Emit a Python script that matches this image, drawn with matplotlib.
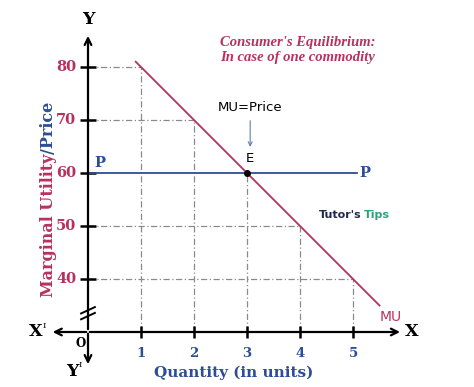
import matplotlib.pyplot as plt
import numpy as np

# data
qty = [1, 2, 3, 4, 5]
mu = [80, 70, 60, 50, 40]
mu_line_x = [0.9, 5.5]
mu_line_y = [81, 35]
price = 60
price_x = [0, 5.08]
y_ticks = [40, 50, 60, 70, 80]

crimson = '#B8315E'
blue = '#2D4E95'
grey = '#8a8a8a'
serif = 'DejaVu Serif'

fig = plt.figure(figsize=(4.74, 3.87), dpi=100)
ax = fig.add_axes([0, 0, 1, 1])
ax.set_xlim(-88 / 53, 386 / 53)
ax.set_ylim(30 - 55 / 5.3, 30 + 332 / 5.3)
ax.axis('off')

# guide lines
for x, y in zip(qty, mu):
    ax.plot([x, x], [30, y], color=grey, lw=0.9, ls='-.', dashes=(5, 2, 1, 2))
    if y != price:
        ax.plot([0, x], [y, y], color=grey, lw=0.9, ls='-.', dashes=(5, 2, 1, 2))

# axes with arrows
arr = dict(arrowstyle='->', color='black', lw=1.6, mutation_scale=12)
ax.annotate('', xy=(0, 86.4), xytext=(0, 30), arrowprops=arr)
ax.annotate('', xy=(0, 23.4), xytext=(0, 30.2), arrowprops=arr)
ax.annotate('', xy=(5.94, 30), xytext=(-0.02, 30), arrowprops=arr)
ax.annotate('', xy=(-0.72, 30), xytext=(0.02, 30), arrowprops=arr)

# ticks
ax.plot(qty, [30] * len(qty), ls='none', marker='|', ms=8, mew=1.8, color='black')
ax.plot([0] * len(y_ticks), y_ticks, ls='none', marker='_', ms=11, mew=1.8, color='black')

# axis break
for dy in (0, 1.1):
    ax.plot([-0.13, 0.13], [32.4 + dy, 33.6 + dy], color='black', lw=1.4)

# lines
ax.plot(mu_line_x, mu_line_y, color=crimson, lw=1.3)
ax.plot(price_x, [price, price], color=blue, lw=1.3)
ax.plot([3], [60], 'o', color='black', ms=4)

# tick labels
for y in y_ticks:
    ax.text(-0.22, y, str(y), ha='right', va='center', color=crimson,
            fontsize=10.5, fontweight='bold', family=serif)
for x in qty:
    ax.text(x, 26.0, str(x), ha='center', va='center', color=blue,
            fontsize=9.5, fontweight='bold', family=serif)

# axis letters
ax.text(0, 88.9, 'Y', ha='center', va='center', fontsize=12.5, fontweight='bold', family=serif)
ax.text(6.1, 30, 'X', ha='center', va='center', fontsize=12.5, fontweight='bold', family=serif)
ax.text(-0.86, 30, 'X', ha='right', va='center', fontsize=12.5, fontweight='bold', family=serif)
ax.text(-0.86, 31.2, 'I', ha='left', va='center', fontsize=6, family=serif)
ax.text(-0.18, 22.6, 'Y', ha='right', va='center', fontsize=12.5, fontweight='bold', family=serif)
ax.text(-0.18, 23.8, 'I', ha='left', va='center', fontsize=6, family=serif)
ax.text(-0.14, 27.9, 'O', ha='center', va='center', fontsize=8.5, fontweight='bold', family=serif)

# annotations
ax.text(3.96, 83.2, "Consumer's Equilibrium:\nIn case of one commodity", ha='center',
        va='center', color=crimson, fontsize=10.5, fontweight='bold', style='italic',
        family='Liberation Serif', linespacing=1.15)
ax.text(3.06, 72.4, 'MU=Price', ha='center', va='center', fontsize=9.5)
ax.annotate('', xy=(3.06, 64.4), xytext=(3.06, 70.4),
            arrowprops=dict(arrowstyle='->', color='#5b7fb5', lw=0.8, mutation_scale=7))
ax.text(2.97, 62.7, 'E', ha='left', va='center', fontsize=9.5)
ax.text(0.12, 61.9, 'P', ha='left', va='center', color=blue, fontsize=10.5,
        fontweight='bold', family=serif)
ax.text(5.12, 60, 'P', ha='left', va='center', color=blue, fontsize=10.5,
        fontweight='bold', family=serif)
ax.text(5.5, 32.8, 'MU', ha='left', va='center', color=crimson, fontsize=10)

fig.canvas.draw()
r = fig.canvas.get_renderer()
inv = ax.transData.inverted()

# logo text
t1 = ax.text(4.36, 52.1, "Tutor's", ha='left', va='center', color='#1f2a4a',
             fontsize=8, fontweight='bold')
x_end = inv.transform((t1.get_window_extent(r).x1 + 2, 0))[0]
ax.text(x_end, 52.1, 'Tips', ha='left', va='center', color='#2aa37a',
        fontsize=8, fontweight='bold')

# axis titles
ax.text(2.74, 22.3, 'Quantity (in units)', ha='center', va='center', color=blue,
        fontsize=11, fontweight='bold', family=serif)
yl1 = ax.text(-0.75, 30 + 35 / 5.3, 'Marginal Utility', rotation=90, ha='center',
              va='bottom', color=crimson, fontsize=11.5, fontweight='bold', family=serif)
top = inv.transform((0, yl1.get_window_extent(r).y1))[1]
ax.text(-0.75, top, '/Price', rotation=90, ha='center', va='bottom', color=blue,
        fontsize=11.5, fontweight='bold', family=serif)

fig.savefig('out.png', dpi=100)
